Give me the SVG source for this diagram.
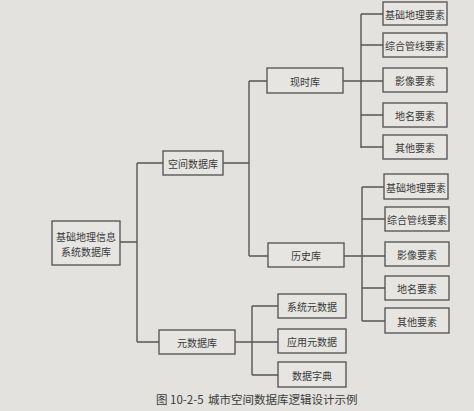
<svg xmlns="http://www.w3.org/2000/svg" width="474" height="411" viewBox="0 0 474 411">
<style>
.bg{fill:#e3e2df}
.box{fill:#e6e5e2;stroke:#5a5a5a;stroke-width:1.4}
.ln{fill:none;stroke:#555;stroke-width:1.4}
text{font-family:"Noto Sans CJK SC","Noto Sans CJK JP",sans-serif;font-size:10px;fill:#3a3a3a;text-anchor:middle;dominant-baseline:central}
.cap{font-size:11.5px}
</style>
<rect class="bg" x="0" y="0" width="474" height="411"/>
<g id="connectors">
<path class="ln" d="M120,242H137M137,163V342M137,163H163M137,342H159"/>
<path class="ln" d="M223,163H249M249,81V256M249,81H267M249,256H268"/>
<path class="ln" d="M343,81H383M361,14V148M361,14H383M361,45H383M361,115H383M361,147H383"/>
<path class="ln" d="M344,256H385M362,187V321M362,187H384M362,219H385M362,288H385M362,321H385"/>
<path class="ln" d="M235,342H278M252,306V375M252,306H278M252,375H278"/>
</g>
<g id="root"><rect class="box" x="52" y="221" width="68" height="44"/><text x="86" y="236">基础地理信息</text><text x="86" y="251">系统数据库</text></g>
<g id="spatial"><rect class="box" x="163" y="151" width="60" height="24"/><text x="193" y="163">空间数据库</text></g>
<g id="meta"><rect class="box" x="159" y="330" width="76" height="24"/><text x="197" y="342">元数据库</text></g>
<g id="current"><rect class="box" x="267" y="68" width="76" height="25"/><text x="305" y="81">现时库</text></g>
<g id="history"><rect class="box" x="268" y="243" width="76" height="24"/><text x="306" y="255">历史库</text></g>
<g id="c1"><rect class="box" x="383" y="2" width="64" height="23"/><text x="415" y="14">基础地理要素</text></g>
<g id="c2"><rect class="box" x="383" y="33" width="64" height="24"/><text x="415" y="45">综合管线要素</text></g>
<g id="c3"><rect class="box" x="383" y="68" width="64" height="24"/><text x="415" y="80">影像要素</text></g>
<g id="c4"><rect class="box" x="383" y="103" width="64" height="24"/><text x="415" y="115">地名要素</text></g>
<g id="c5"><rect class="box" x="383" y="135" width="64" height="24"/><text x="415" y="147">其他要素</text></g>
<g id="h1"><rect class="box" x="384" y="174" width="64" height="25"/><text x="416" y="187">基础地理要素</text></g>
<g id="h2"><rect class="box" x="385" y="207" width="64" height="24"/><text x="417" y="219">综合管线要素</text></g>
<g id="h3"><rect class="box" x="385" y="242" width="64" height="24"/><text x="417" y="254">影像要素</text></g>
<g id="h4"><rect class="box" x="385" y="276" width="64" height="24"/><text x="417" y="288">地名要素</text></g>
<g id="h5"><rect class="box" x="385" y="308" width="64" height="25"/><text x="417" y="321">其他要素</text></g>
<g id="m1"><rect class="box" x="278" y="294" width="68" height="24"/><text x="312" y="306">系统元数据</text></g>
<g id="m2"><rect class="box" x="278" y="329" width="68" height="24"/><text x="312" y="341">应用元数据</text></g>
<g id="m3"><rect class="box" x="278" y="362" width="68" height="25"/><text x="312" y="375">数据字典</text></g>
<text class="cap" x="156" y="399" style="text-anchor:start">图 10-2-5</text>
<text class="cap" x="208" y="399" style="text-anchor:start">城市空间数据库逻辑设计示例</text>
</svg>
